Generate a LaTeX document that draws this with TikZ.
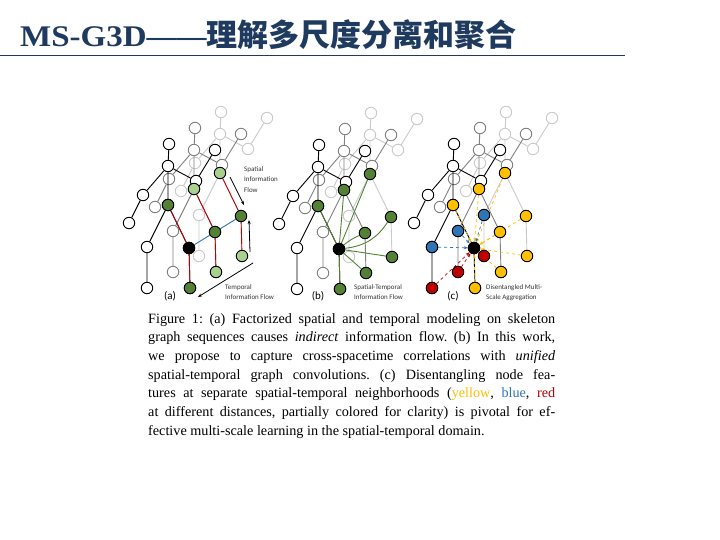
\documentclass[tikz,border=0pt]{standalone}
\usepackage{fontspec}
\setmainfont{Liberation Serif}
\newfontfamily\cjk{Noto Sans CJK SC}
\newfontfamily\carl{Carlito}
\usetikzlibrary{arrows.meta}
\definecolor{dg}{HTML}{548235}
\definecolor{lg}{HTML}{A9D18E}
\definecolor{yl}{HTML}{FFC000}
\definecolor{bl}{HTML}{2E75B6}
\definecolor{rd}{HTML}{C00000}
\definecolor{ttl}{HTML}{1F3A5F}
\definecolor{g1}{HTML}{808080}
\definecolor{g2}{HTML}{CACACA}
\frenchspacing
\tikzset{jn/.style={circle,fill=white,minimum size=11.5pt,inner sep=0pt,line width=0.9pt},
 cn/.style={jn,draw=black},
 lbl/.style={font=\carl\fontsize{7}{10.5}\selectfont,align=left,inner sep=0pt,text=black!80},
 ca/.style={-{Stealth[length=4pt]},dashed,line width=0.7pt}}
\newcommand\skel[4]{%
\begin{scope}[shift={(#2,#3)}]
\node[jn,draw=#4] (#1H) at (1,-22) {};
\node[jn,draw=#4] (#1N) at (0,0) {};
\node[jn,draw=#4] (#1LE) at (-25,29) {};
\node[jn,draw=#4] (#1LH) at (-39,57) {};
\node[jn,draw=#4] (#1RS) at (28,15) {};
\node[jn,draw=#4] (#1RH) at (47,-16) {};
\node[jn,draw=#4] (#1P) at (0,39) {};
\node[jn,draw=#4] (#1LK) at (-21,81) {};
\node[jn,draw=#4] (#1LF) at (-21,122) {};
\node[jn,draw=#4] (#1RK) at (21,82) {};
\node[jn,draw=#4] (#1RF) at (22,122) {};
\draw[#4,line width=0.9pt] (#1H)--(#1N) (#1N)--(#1LE)--(#1LH) (#1N)--(#1RS)--(#1RH) (#1N)--(#1P) (#1P)--(#1LK)--(#1LF) (#1P)--(#1RK)--(#1RF);
\end{scope}}
\newcommand\cnode[2]{\node[cn,fill=#2] (#1c) at (#1) {};}
\begin{document}
\begin{tikzpicture}[x=1pt,y=-1pt]
\useasboundingbox (0,0) rectangle (720,540);
% title
\node[anchor=base west,inner sep=0pt,text=ttl] (title) at (20,47) {\fontsize{30}{30}\selectfont\bfseries \scalebox{1.1}[1]{MS-G3D}——{\cjk\fontsize{31}{30}\selectfont 理解多尺度分离和聚合}};
\draw[ttl,line width=0.9pt] (0,55) -- (625,55);
% skeletons
\foreach \p/\bx/\by in {a/168/166,b/318/167,c/453/166}{
 \skel{\p2}{\bx+52}{\by-32}{g2}
 \skel{\p1}{\bx+26}{\by-16}{g1}
 \skel{\p0}{\bx}{\by}{black}
}
% panel (a)
\foreach \k in {0,1,2}{\draw[rd,line width=0.9pt] (a\k P)--(a\k RK)--(a\k RF);}
\draw[bl,line width=0.9pt] (a0RK)--(a1RK)--(a2RK);
\cnode{a0P}{dg}\cnode{a0RK}{black}\cnode{a0RF}{dg}
\cnode{a1P}{lg}\cnode{a1RK}{dg}\cnode{a1RF}{lg}
\cnode{a2P}{lg}\cnode{a2RK}{dg}\cnode{a2RF}{lg}
\coordinate (s1) at (230,177); \coordinate (s2) at (244,205);
\coordinate (u1) at (250,252); \coordinate (u2) at (249,220);
\coordinate (t1) at (253,263); \coordinate (t2) at (198,297);
\draw[-{Stealth[length=4pt]},line width=0.8pt] (s1)--(s2);
\draw[-{Stealth[length=4pt]},line width=0.8pt] (u1)--(u2);
\draw[-{Stealth[length=4pt]},line width=0.8pt] (t1)--(t2);
\node[lbl,anchor=north west] (la) at (244,166) {Spatial\\Information\\Flow};
\node[lbl,anchor=north west] (lta) at (225,284) {Temporal\\Information Flow};
\node[font=\carl\fontsize{11}{12}\selectfont] (pa) at (170,296) {(a)};
% panel (b)
\foreach \n in {b0P,b1P,b2P,b0RF,b1RF,b2RF}{\draw[dg,line width=0.9pt] (b0RK)--(\n);}
\draw[dg,line width=0.9pt] (b0RK) to[bend left=8] (b1RK);
\draw[dg,line width=0.9pt] (b0RK) to[bend right=25] (b2RK);
\cnode{b0RK}{black}
\foreach \n in {b0P,b1P,b2P,b0RF,b1RF,b2RF,b1RK,b2RK}{\cnode{\n}{dg}}
\node[lbl,anchor=north west] (lb) at (354,284) {Spatial-Temporal\\Information Flow};
\node[font=\carl\fontsize{11}{12}\selectfont] (pb) at (318,296) {(b)};
% panel (c)
\foreach \n in {c0P,c1P,c2P,c1RK,c2RK,c0RF,c1RF,c2RF}{\draw[ca,yl] (\n)--(c0RK);}
\foreach \n in {c0LK,c1LK,c2LK}{\draw[ca,bl] (\n)--(c0RK);}
\foreach \n in {c0LF,c1LF,c2LF}{\draw[ca,rd] (\n)--(c0RK);}
\cnode{c0RK}{black}
\foreach \n in {c0P,c1P,c2P,c1RK,c2RK,c0RF,c1RF,c2RF}{\cnode{\n}{yl}}
\foreach \n in {c0LK,c1LK,c2LK}{\cnode{\n}{bl}}
\foreach \n in {c0LF,c1LF,c2LF}{\cnode{\n}{rd}}
\node[lbl,anchor=north west] (lc) at (486,284) {Disentangled Multi-\\Scale Aggregation};
\node[font=\carl\fontsize{11}{12}\selectfont] (pc) at (453,296) {(c)};
% caption
\node[anchor=north west,inner sep=0pt,font=\fontsize{14.2}{18.7}\selectfont,align=left] (cap) at (148,313) {%
\makebox[407pt][s]{Figure 1: (a) Factorized spatial and temporal modeling on skeleton}\\
\makebox[407pt][s]{graph sequences causes \emph{indirect} information flow. (b) In this work,}\\
\makebox[407pt][s]{we propose to capture cross-spacetime correlations with \emph{unified}}\\
\makebox[407pt][s]{spatial-temporal graph convolutions. (c) Disentangling node fea-}\\
\makebox[407pt][s]{tures at separate spatial-temporal neighborhoods ({\color{yl}yellow}, {\color{bl}blue}, {\color{rd}red}}\\
\makebox[407pt][s]{at different distances, partially colored for clarity) is pivotal for ef-}\\
fective multi-scale learning in the spatial-temporal domain.};
\end{tikzpicture}
\end{document}
